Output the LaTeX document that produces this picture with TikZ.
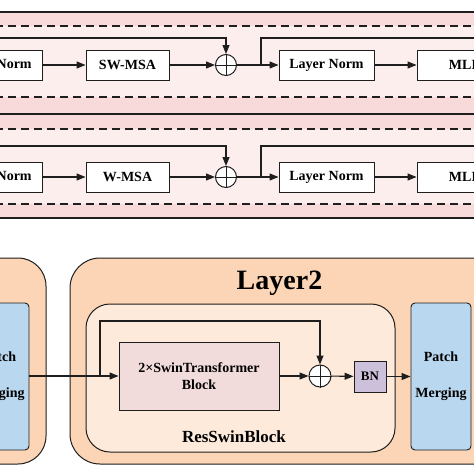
\documentclass[tikz,border=0pt]{standalone}
\usepackage{fontspec}
\setmainfont{Liberation Serif}
\usetikzlibrary{arrows.meta}
\definecolor{pinkdark}{HTML}{F8DADA}
\definecolor{pinklight}{HTML}{FDEEEE}
\definecolor{orangebg}{HTML}{FBD5B5}
\definecolor{creambg}{HTML}{FDEADB}
\definecolor{trpink}{HTML}{F2DCDB}
\definecolor{bnpurple}{HTML}{CCC0DA}
\definecolor{pmblue}{HTML}{B9D7EF}
\definecolor{ink}{HTML}{1E1E1E}
\tikzset{
  ln/.style={line width=1.1pt, draw=ink},
  arr/.style={ln, -{Triangle[length=9pt,width=7pt]}},
  wbox/.style={draw=ink, line width=0.9pt, fill=white, minimum height=30pt, inner sep=0pt,
    font=\bfseries\fontsize{14}{16}\selectfont},
  oplus/.style={circle, draw=ink, line width=1pt, fill=white, minimum size=21pt, inner sep=0pt},
  dashln/.style={draw=ink, line width=1.2pt, dash pattern=on 8pt off 5pt},
  solidln/.style={draw=ink, line width=1.1pt},
  pmbox/.style={draw=ink, line width=0.9pt, fill=pmblue, rounded corners=4pt, minimum width=60pt,
    minimum height=147pt, inner sep=0pt, align=center, font=\bfseries\fontsize{14}{16}\selectfont},
}
\begin{document}
\begin{tikzpicture}[x=1pt,y=-1pt]
\path[use as bounding box, clip] (0,0) rectangle (474,474);
\fill[white] (0,0) rectangle (474,474);
% ---------- top bands ----------
\fill[pinkdark] (-5,12) rectangle (480,218);
\fill[pinklight] (-5,26) rectangle (480,97);
\fill[pinklight] (-5,129) rectangle (480,204);
\draw[solidln] (-5,12) -- (480,12);
\draw[solidln] (-5,114) -- (480,114);
\draw[solidln] (-5,218) -- (480,218);
\draw[dashln] (-5,26) -- (480,26);
\draw[dashln] (-5,97) -- (480,97);
\draw[dashln] (-5,129) -- (480,129);
\draw[dashln] (-5,204) -- (480,204);

% band 1
\node[wbox, minimum width=95pt] (lnA1) at (-5.5,65) {Layer Norm};
\node[wbox, minimum width=83pt] (sw) at (127.5,65) {SW-MSA};
\node[oplus] (op1) at (226,65) {};
\draw[line width=1pt, draw=ink] (op1.north) -- (op1.south) (op1.west) -- (op1.east);
\node[wbox, minimum width=95pt] (lnB1) at (326.5,65) {Layer Norm};
\node[wbox, minimum width=95pt] (mlp1) at (464.5,65) {MLP};
\coordinate (s1a) at (-5,38);
\coordinate (s1b) at (261,65);
\coordinate (s1c) at (480,38);
\draw[arr] (lnA1) -- (sw);
\draw[arr] (sw) -- (op1);
\draw[arr] (op1) -- (lnB1);
\draw[arr] (lnB1) -- (mlp1);
\draw[arr] (s1a) -| (op1.north);
\draw[ln] (s1b) |- (s1c);

% band 2
\node[wbox, minimum width=95pt] (lnA2) at (-5.5,177) {Layer Norm};
\node[wbox, minimum width=83pt] (wm) at (127.5,177) {W-MSA};
\node[oplus] (op2) at (226,177) {};
\draw[line width=1pt, draw=ink] (op2.north) -- (op2.south) (op2.west) -- (op2.east);
\node[wbox, minimum width=95pt] (lnB2) at (326.5,177) {Layer Norm};
\node[wbox, minimum width=95pt] (mlp2) at (464.5,177) {MLP};
\coordinate (s2a) at (-5,146);
\coordinate (s2b) at (261,177);
\coordinate (s2c) at (480,146);
\draw[arr] (lnA2) -- (wm);
\draw[arr] (wm) -- (op2);
\draw[arr] (op2) -- (lnB2);
\draw[arr] (lnB2) -- (mlp2);
\draw[arr] (s2a) -| (op2.north);
\draw[ln] (s2b) |- (s2c);

% ---------- bottom ----------
\draw[draw=ink, line width=1pt, fill=orangebg, rounded corners=28pt] (-100,258) rectangle (46,464);
\draw[draw=ink, line width=1pt, fill=orangebg, rounded corners=30pt] (70,258) rectangle (530,464);
\node[font=\bfseries\fontsize{28}{30}\selectfont] (l2) at (279.5,283) {Layer2};
\draw[draw=ink, line width=1pt, fill=creambg, rounded corners=24pt] (86,304) rectangle (395,452);
\node[font=\bfseries\fontsize{17}{19}\selectfont] (rsb) at (234,437) {ResSwinBlock};

\node[pmbox] (pmL) at (-1,376.5) {Patch\\[20pt]Merging};
\node[pmbox] (pmR) at (441,376.5) {Patch\\[20pt]Merging};
\node[draw=ink, line width=0.9pt, fill=trpink, minimum width=160pt, minimum height=68pt, inner sep=0pt,
  align=center, font=\bfseries\fontsize{14}{16.5}\selectfont] (tr) at (199,376) {2×SwinTransformer\\Block};
\node[oplus, minimum size=22pt] (op3) at (320,376) {};
\draw[line width=1pt, draw=ink] (op3.north) -- (op3.south) (op3.west) -- (op3.east);
\node[draw=ink, line width=0.9pt, fill=bnpurple, minimum width=32pt, minimum height=31pt, inner sep=0pt,
  font=\bfseries\fontsize{13}{15}\selectfont] (bn) at (370,376.5) {BN};
\coordinate (s3) at (100,376);
\coordinate (s3t) at (100,321);
\draw[arr] (pmL.east |- tr.west) -- (tr.west);
\draw[arr] (tr) -- (op3);
\draw[arr] (op3) -- (bn);
\draw[arr] (bn.east) -- (pmR.west |- bn.east);
\draw[arr] (s3) -- (s3t) -| (op3.north);
\end{tikzpicture}
\end{document}
